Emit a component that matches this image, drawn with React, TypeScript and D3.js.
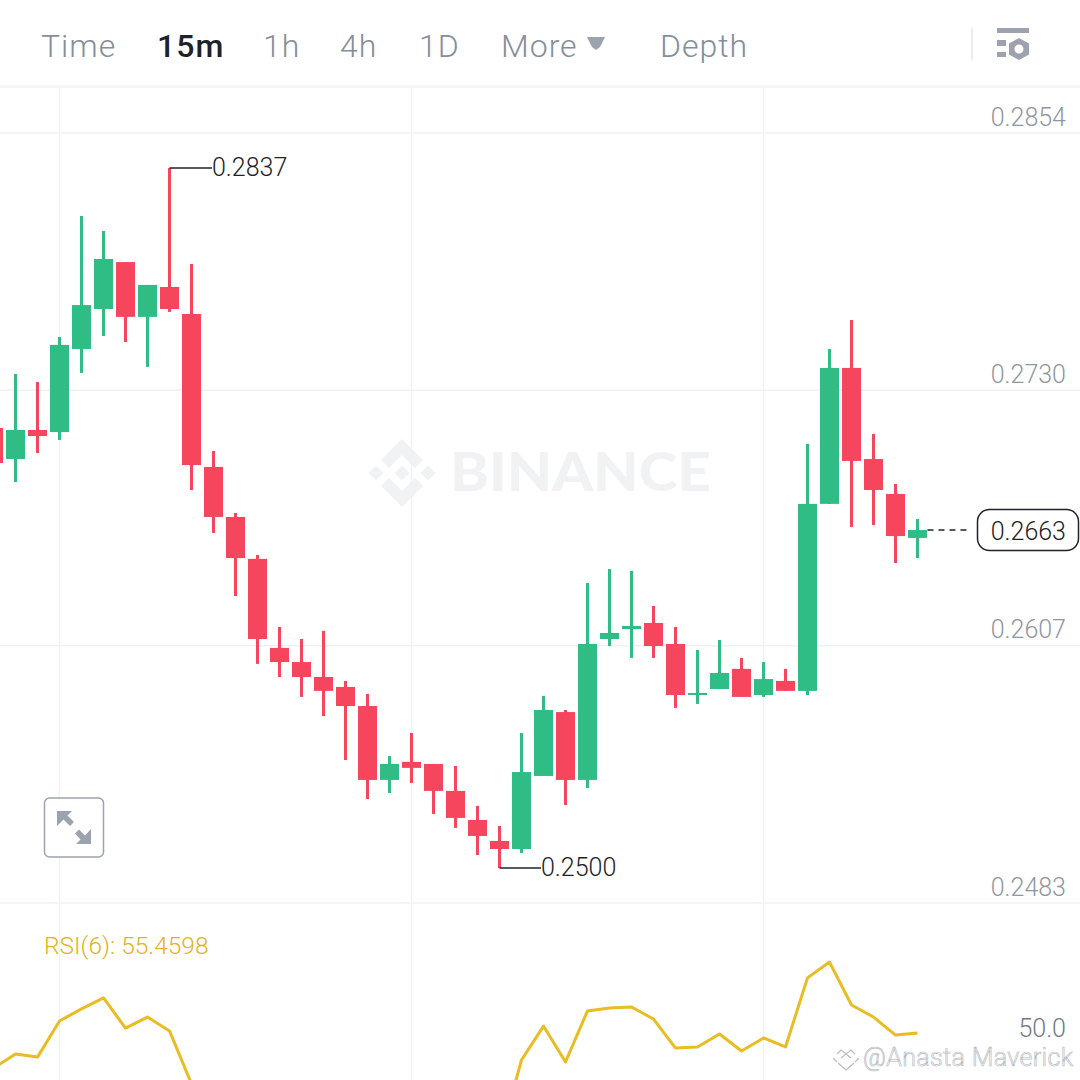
import { useRef, useEffect } from 'react';
import * as d3 from 'd3';

const tabs = ['Time', '15m', '1h', '4h', '1D', 'More', 'Depth'];
const tabX = [41, 157, 263, 340, 419, 501, 660];
const activeTab = '15m';

const priceTicks = [0.2854, 0.273, 0.2607, 0.2483];
const gridCandles = [3, 19, 35];

const opens = [
  0.27119, 0.26969, 0.27109, 0.27099, 0.27499, 0.27692, 0.27918, 0.27654, 0.27798, 0.27668,
  0.26931, 0.2669, 0.26488, 0.26059, 0.25991, 0.25919, 0.25871, 0.25779, 0.25423, 0.2551,
  0.255, 0.2537, 0.2523, 0.25129, 0.2509, 0.25442, 0.2575, 0.25423, 0.26102, 0.2615,
  0.26179, 0.26078, 0.25832, 0.25861, 0.25958, 0.25832, 0.259, 0.25852, 0.26753, 0.27408,
  0.26969, 0.26801, 0.26589,
];
const closes = [
  0.2695, 0.27109, 0.2708, 0.27519, 0.27711, 0.27933, 0.27654, 0.27808, 0.27692, 0.2694,
  0.2669, 0.26492, 0.26102, 0.25991, 0.25919, 0.25852, 0.25779, 0.25423, 0.255, 0.25481,
  0.2537, 0.2524, 0.25153, 0.2509, 0.25461, 0.2576, 0.25423, 0.26078, 0.26131, 0.26165,
  0.26068, 0.25832, 0.25842, 0.25938, 0.25823, 0.25909, 0.25852, 0.26753, 0.27408, 0.2696,
  0.2682, 0.26598, 0.26627,
];
const highs = [
  0.27119, 0.27379, 0.2734, 0.27557, 0.2814, 0.28068, 0.27918, 0.27808, 0.28371, 0.27909,
  0.27008, 0.26709, 0.26507, 0.2616, 0.26102, 0.26141, 0.259, 0.25837, 0.25538, 0.25649,
  0.255, 0.2549, 0.25298, 0.25201, 0.25649, 0.25828, 0.2576, 0.26372, 0.26439, 0.2643,
  0.26261, 0.2616, 0.26049, 0.26097, 0.26011, 0.25991, 0.25958, 0.27042, 0.27499, 0.27639,
  0.2709, 0.26849, 0.2668,
];
const lows = [
  0.2695, 0.26858, 0.26998, 0.27061, 0.27384, 0.27562, 0.27533, 0.27413, 0.27678, 0.2682,
  0.26613, 0.26309, 0.25982, 0.25919, 0.25823, 0.25731, 0.25519, 0.25331, 0.2536, 0.25408,
  0.25259, 0.25192, 0.25061, 0.24999, 0.25071, 0.25442, 0.25302, 0.25384, 0.26068, 0.26011,
  0.26011, 0.2577, 0.25789, 0.25861, 0.25823, 0.25823, 0.25852, 0.25832, 0.26753, 0.26642,
  0.26651, 0.26468, 0.26492,
];
// the line runs off the bottom of the frame between candles 9 and 24
const rsi = [
  39.5, 45.9, 44.5, 60.9, 66.4, 71.4, 57.7, 62.7, 56.4, 32.3,
  26, 21, 17, 15, 14, 13, 12, 10, 13, 12,
  10, 9, 8, 6.8, 43.2, 58.6, 42.3, 65.5, 66.8, 67.3,
  61.8, 48.6, 49.1, 55, 47.3, 53.2, 49.1, 80.5, 87.7, 68.2,
  62.7, 54.5, 55.46,
];

const GREEN = '#2FBD85';
const RED = '#F6465D';
const GRID = '#EFF1F3';
const MUTED = '#848E9C';
const INK = '#1E2329';
const YELLOW = '#E8BC22';
const FONT = 'Roboto, sans-serif';

const UPPER_CHEVRON = 'M0,-34L21,-13L13,-5L0,-18L-13,-5L-21,-13Z';
const LOWER_CHEVRON = 'M0,34L21,13L13,5L0,18L-13,5L-21,13Z';
const DIAMOND = 'M0,-7.5L7.5,0L0,7.5L-7.5,0Z';

export default function App() {
  const svgRef = useRef<SVGSVGElement>(null);

  useEffect(() => {
    if (!svgRef.current) return;
    const svg = d3.select(svgRef.current);
    svg.selectAll('*').remove();

    const x = d3.scaleLinear().domain([0, 42]).range([-6.5, 917.5]);
    const y = d3.scaleLinear().domain([0.2854, 0.2483]).range([133, 903]);
    const yRsi = d3.scaleLinear().domain([0, 100]).range([1155, 935]);
    const candles = d3.range(opens.length);

    // Header
    svg.append('rect').attr('x', 0).attr('y', 85).attr('width', 1080).attr('height', 3).attr('fill', '#F5F6F6');
    svg.selectAll('text.tab')
      .data(tabs)
      .join('text')
      .attr('class', 'tab')
      .attr('x', (_, i) => tabX[i])
      .attr('y', 57)
      .attr('font-family', FONT)
      .attr('font-size', 32)
      .attr('letter-spacing', 1)
      .attr('font-weight', (d) => (d === activeTab ? 500 : 300))
      .attr('fill', (d) => (d === activeTab ? INK : MUTED))
      .text((d) => d);
    svg.append('path').attr('d', 'M587,37H605L600,47L596,50L592,47Z').attr('fill', '#9CA3AE');
    svg.append('rect').attr('x', 971).attr('y', 28).attr('width', 2).attr('height', 32).attr('fill', '#ECEDEF');
    const cog = svg.append('g').attr('fill', '#9CA3AE');
    cog.append('rect').attr('x', 997).attr('y', 28).attr('width', 32).attr('height', 5);
    cog.append('rect').attr('x', 997).attr('y', 40).attr('width', 9).attr('height', 6);
    cog.append('rect').attr('x', 997).attr('y', 52).attr('width', 9).attr('height', 5);
    cog.append('path')
      .attr('fill-rule', 'evenodd')
      .attr('d', 'M1019,38L1029,43.5V54.5L1019,60L1009,54.5V43.5ZM1019,44.5a4.5,4.5 0 1,0 0.01,0Z');

    // Watermark
    const logo = svg.append('g').attr('transform', 'translate(402,473)').attr('fill', '#F1F2F3');
    logo.append('path').attr('d', UPPER_CHEVRON);
    logo.append('path').attr('d', LOWER_CHEVRON);
    [0, -26, 26].forEach((dx) => {
      logo.append('path').attr('d', DIAMOND).attr('transform', `translate(${dx},0)`);
    });
    svg.append('text')
      .attr('x', 450)
      .attr('y', 491)
      .attr('textLength', 261)
      .attr('lengthAdjust', 'spacingAndGlyphs')
      .attr('font-family', 'Lato, sans-serif')
      .attr('font-weight', 900)
      .attr('font-size', 53)
      .attr('fill', '#F1F2F3')
      .text('BINANCE');

    // Grid
    svg.selectAll('line.hgrid')
      .data(priceTicks)
      .join('line')
      .attr('class', 'hgrid')
      .attr('x1', 0)
      .attr('x2', 1080)
      .attr('y1', (d) => y(d))
      .attr('y2', (d) => y(d))
      .attr('stroke', GRID)
      .attr('stroke-width', 1.5);
    svg.selectAll('line.vgrid')
      .data(gridCandles)
      .join('line')
      .attr('class', 'vgrid')
      .attr('x1', (d) => x(d))
      .attr('x2', (d) => x(d))
      .attr('y1', 88)
      .attr('y2', 1080)
      .attr('stroke', GRID)
      .attr('stroke-width', 1.5);

    // Price labels
    const axis = svg.append('g')
      .attr('transform', 'translate(1066,0)')
      .call(d3.axisLeft(y).tickValues(priceTicks).tickSize(0).tickPadding(0).tickFormat((d) => (d as number).toFixed(4)));
    axis.select('.domain').remove();
    axis.selectAll('.tick text')
      .attr('y', -16)
      .attr('font-family', FONT)
      .attr('font-size', 25)
      .attr('font-weight', 300)
      .attr('fill', '#8F97A3');

    // Candles
    const colorOf = (i: number) => (closes[i] >= opens[i] ? GREEN : RED);
    svg.selectAll('rect.wick')
      .data(candles)
      .join('rect')
      .attr('class', 'wick')
      .attr('x', (i) => x(i) - 1.5)
      .attr('width', 3)
      .attr('y', (i) => y(highs[i]))
      .attr('height', (i) => y(lows[i]) - y(highs[i]))
      .attr('fill', colorOf);
    svg.selectAll('rect.body')
      .data(candles)
      .join('rect')
      .attr('class', 'body')
      .attr('x', (i) => x(i) - 9.5)
      .attr('width', 19)
      .attr('y', (i) => y(Math.max(opens[i], closes[i])))
      .attr('height', (i) => Math.abs(y(opens[i]) - y(closes[i])))
      .attr('fill', colorOf);

    // High / low callouts
    const highIdx = d3.maxIndex(highs);
    const lowIdx = d3.minIndex(lows);
    [
      { i: highIdx, value: highs[highIdx], end: 212 },
      { i: lowIdx, value: lows[lowIdx], end: 541 },
    ].forEach(({ i, value, end }) => {
      svg.append('line')
        .attr('x1', x(i))
        .attr('x2', end)
        .attr('y1', y(value))
        .attr('y2', y(value))
        .attr('stroke', INK)
        .attr('stroke-width', 1.5);
      svg.append('text')
        .attr('x', end)
        .attr('y', y(value) + 8)
        .attr('font-family', FONT)
        .attr('font-size', 25)
        .attr('font-weight', 300)
        .attr('fill', INK)
        .text(value.toFixed(4));
    });

    // Last price
    const last = closes[closes.length - 1];
    svg.append('line')
      .attr('x1', x(42) + 10)
      .attr('x2', 967)
      .attr('y1', y(last))
      .attr('y2', y(last))
      .attr('stroke', INK)
      .attr('stroke-width', 1.5)
      .attr('stroke-dasharray', '6 5');
    svg.append('rect')
      .attr('x', 977.5)
      .attr('y', y(last) - 20.5)
      .attr('width', 101)
      .attr('height', 41)
      .attr('rx', 12)
      .attr('fill', '#fff')
      .attr('stroke', INK)
      .attr('stroke-width', 1.5);
    svg.append('text')
      .attr('x', 1066)
      .attr('y', y(last) + 9.5)
      .attr('text-anchor', 'end')
      .attr('font-family', FONT)
      .attr('font-size', 25)
      .attr('font-weight', 300)
      .attr('fill', INK)
      .text(last.toFixed(4));

    // Expand button
    svg.append('rect')
      .attr('x', 44.5)
      .attr('y', 798)
      .attr('width', 59)
      .attr('height', 59)
      .attr('rx', 5)
      .attr('fill', '#fff')
      .attr('stroke', '#9CA3AE')
      .attr('stroke-width', 1.5);
    svg.append('path')
      .attr('d', 'M57,811H72L67.5,815.5L74,822L70,826L63.5,819.5L57,826ZM91,844H76L80.5,839.5L75,833.5L79,829.5L85,835.5L91,829Z')
      .attr('fill', '#9CA3AE');

    // RSI
    svg.append('text')
      .attr('x', 44)
      .attr('y', 954)
      .attr('font-family', FONT)
      .attr('font-size', 24.5)
      .attr('font-weight', 300)
      .attr('fill', '#E3B21C')
      .text('RSI(6): 55.4598');
    const line = d3.line<number>()
      .x((d, i) => x(i))
      .y((d) => yRsi(d));
    svg.append('path')
      .attr('d', line(rsi))
      .attr('fill', 'none')
      .attr('stroke', YELLOW)
      .attr('stroke-width', 3)
      .attr('stroke-linejoin', 'round');
    svg.append('text')
      .attr('x', 1066)
      .attr('y', yRsi(50) - 8)
      .attr('text-anchor', 'end')
      .attr('font-family', FONT)
      .attr('font-size', 25)
      .attr('font-weight', 300)
      .attr('fill', '#707A8A')
      .text('50.0');

    // Author mark
    const mark = svg.append('g')
      .attr('fill', 'none')
      .attr('stroke', '#B9BDC3')
      .attr('stroke-width', 1.2);
    mark.append('path').attr('d', 'M837,1054L841,1050L846,1054L851,1050L855,1054M833,1058L837,1062M859,1058L855,1062M841,1058L846,1054L851,1058M838,1063L846,1070L854,1063');
    svg.append('text')
      .attr('x', 863)
      .attr('y', 1066)
      .attr('textLength', 210)
      .attr('font-family', FONT)
      .attr('font-size', 25)
      .attr('font-weight', 300)
      .attr('fill', '#fff')
      .attr('stroke', '#B9BDC3')
      .attr('stroke-width', 0.7)
      .text('@Anasta Maverick');
  }, []);

  return (
    <>
      <style>{'body{margin:0;background:#fff}'}</style>
      <svg ref={svgRef} width={1080} height={1080} viewBox="0 0 1080 1080" style={{ display: 'block' }} />
    </>
  );
}
